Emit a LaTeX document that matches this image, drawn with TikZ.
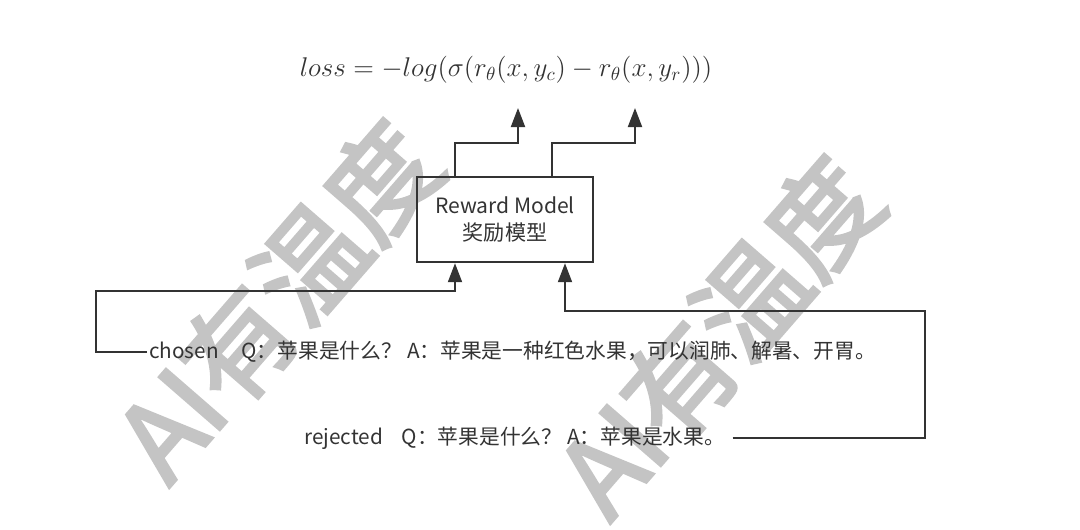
\RequirePackage{fix-cm}
\documentclass[tikz,border=0pt]{standalone}
\usepackage[no-math]{fontspec}
\newfontfamily\cjk{Noto Sans CJK SC}
\newfontfamily\wmfont[FakeBold=3]{Noto Sans CJK SC}
\usetikzlibrary{arrows.meta}
\definecolor{ink}{HTML}{333333}
\definecolor{mark}{HTML}{C4C4C4}

\begin{document}
\begin{tikzpicture}[x=0.02cm, y=-0.02cm,
  flow/.style={draw=ink, line width=1.1pt, -{Triangle[length=0.38cm, width=0.28cm]}},
  txt/.style={text=ink, inner sep=1pt, font=\cjk\fontsize{11.8}{13}\selectfont},
  wmark/.style={text=mark, font=\wmfont\fontsize{62}{62}\selectfont, rotate=49}]
\useasboundingbox (0,0) rectangle (1080,529);
% watermark
\node [wmark] (wm1) at (277,300) {AI有温度};
\node [wmark] (wm2) at (718,336) {AI有温度};
% loss and model
\node [text=ink, font=\fontsize{15.4}{18}\selectfont] (loss) at (506,70) {$loss=-log(\sigma(r_\theta(x,y_c)-r_\theta(x,y_r)))$};
\node [draw=ink, line width=1.1pt, minimum width=3.52cm, minimum height=1.71cm, align=center,
  text=ink, font=\cjk\fontsize{12}{15.5}\selectfont] (rm) at (505,219.5) {Reward Model\\奖励模型};
% samples
\node [txt, anchor=west] (chosen) at (147,352) {chosen\hspace{1.1em}Q：苹果是什么？\hspace{0.25em}A：苹果是一种红色水果，可以润肺、解暑、开胃。};
\node [txt, anchor=west, inner sep=4pt] (rej) at (297,438) {rejected\hspace{0.9em}Q：苹果是什么？\hspace{0.25em}A：苹果是水果。};
% bends
\coordinate (c1) at (455,143);
\coordinate (c2) at (552,143);
\coordinate (yc) at (518,108);
\coordinate (yr) at (635,108);
\coordinate (inC) at (96,291);
\coordinate (inR) at (925,311);
\coordinate (c3) at (565,311);
\draw [flow] (rm.north -| c1) -- (c1) -| (yc);
\draw [flow] (rm.north -| c2) -- (c2) -| (yr);
\draw [flow] (chosen.west) -| (inC) -| (rm.south -| c1);
\draw [flow] (rej.east) -| (inR) -- (c3) -- (rm.south -| c3);
\end{tikzpicture}
\end{document}
